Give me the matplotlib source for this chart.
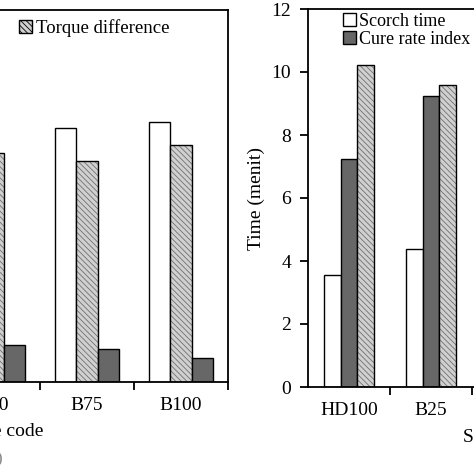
import numpy as np
import matplotlib
matplotlib.use("Agg")
import matplotlib.pyplot as plt
from matplotlib.patches import Patch

plt.rcParams['font.family'] = ['Liberation Serif', 'DejaVu Serif']
plt.rcParams['hatch.linewidth'] = 0.6

########### data (only what is visible in the crop) ###########
codes = ["HD100", "B25", "B50", "B75", "B100"]
# left panel: torque
max_torque = [np.nan, np.nan, np.nan, 20.5, 21.0]
torque_diff = [np.nan, np.nan, 18.5, 17.8, 19.1]
min_torque = [np.nan, np.nan, 3.0, 2.7, 1.9]
# right panel: time (menit)
scorch_time = [3.56, 4.38, np.nan, np.nan, np.nan]
cure_rate_index = [7.24, 9.24, np.nan, np.nan, np.nan]
cure_time = [10.22, 9.59, np.nan, np.nan, np.nan]

HATCH = '\\\\\\\\\\\\'
DARK = '#676767'
LIGHT = '#d0d0d0'
FS = 14

W = H = 474
fig = plt.figure(figsize=(4.74, 4.74), dpi=100)


def axes_px(x0, y0, x1, y1):
    return fig.add_axes([x0 / W, 1 - y1 / H, (x1 - x0) / W, (y1 - y0) / H])


def hatched_bar(ax, x, h, w):
    ax.bar(x, h, w, color=LIGHT, edgecolor='#707070', hatch=HATCH, linewidth=0)
    ax.bar(x, h, w, fill=False, edgecolor='black', linewidth=1.0)


def style_axes(ax):
    x = np.arange(len(codes))
    ax.set_xlim(-0.5, len(codes) - 0.5)
    ax.set_xticks(x + 0.5)
    ax.set_xticklabels([])
    ax.set_xticks(x, minor=True)
    ax.set_xticklabels(codes, minor=True, fontsize=FS)
    ax.tick_params(axis='x', which='minor', length=0, pad=11)
    ax.tick_params(axis='both', which='major', direction='out', length=6,
                   width=1.3, labelsize=FS)
    ax.tick_params(axis='y', which='major', pad=6)
    for s in ax.spines.values():
        s.set_linewidth(1.3)


x = np.arange(len(codes))

# ---------- left panel ----------
axL = axes_px(-242, 10, 228, 382)
wl = 0.225
axL.bar(x - wl, max_torque, wl, color='white', edgecolor='black', linewidth=1.0)
hatched_bar(axL, x, torque_diff, wl)
axL.bar(x + wl, min_torque, wl, color=DARK, edgecolor='black', linewidth=1.0)
axL.set_ylim(0, 30)
style_axes(axL)
axL.set_xlabel('Sample code', fontsize=FS, labelpad=6)
axL.legend(handles=[Patch(facecolor=LIGHT, edgecolor='black', hatch=HATCH,
                          label='Torque difference')],
           loc='upper right', bbox_to_anchor=(170 / W, 1 - 19 / H),
           bbox_transform=fig.transFigure, frameon=False, fontsize=13.5,
           borderpad=0, borderaxespad=0, handlelength=0.7, handleheight=0.7,
           handletextpad=0.25)

# ---------- right panel ----------
axR = axes_px(308, 9, 718, 387)
wr = 0.2
axR.bar(x - wr, scorch_time, wr, color='white', edgecolor='black', linewidth=1.0)
axR.bar(x, cure_rate_index, wr, color=DARK, edgecolor='black', linewidth=1.0)
hatched_bar(axR, x + wr, cure_time, wr)
axR.set_ylim(0, 12)
axR.set_yticks(range(0, 13, 2))
style_axes(axR)
axR.set_ylabel('Time (menit)', fontsize=FS, labelpad=5)
axR.set_xlabel('Sample code', fontsize=FS, labelpad=7)
axR.legend(handles=[Patch(facecolor='white', edgecolor='black', label='Scorch time'),
                    Patch(facecolor=DARK, edgecolor='black', label='Cure rate index')],
           loc='upper left', bbox_to_anchor=(343 / W, 1 - 13 / H),
           bbox_transform=fig.transFigure, frameon=False, fontsize=13,
           borderpad=0, borderaxespad=0, labelspacing=0.05, handlelength=0.7,
           handleheight=0.7, handletextpad=0.2)

fig.text(3 / W, 1 - 459 / H, '(a)', ha='right', va='center', fontsize=12,
         color='#888888')

fig.savefig('out.png', dpi=100)
